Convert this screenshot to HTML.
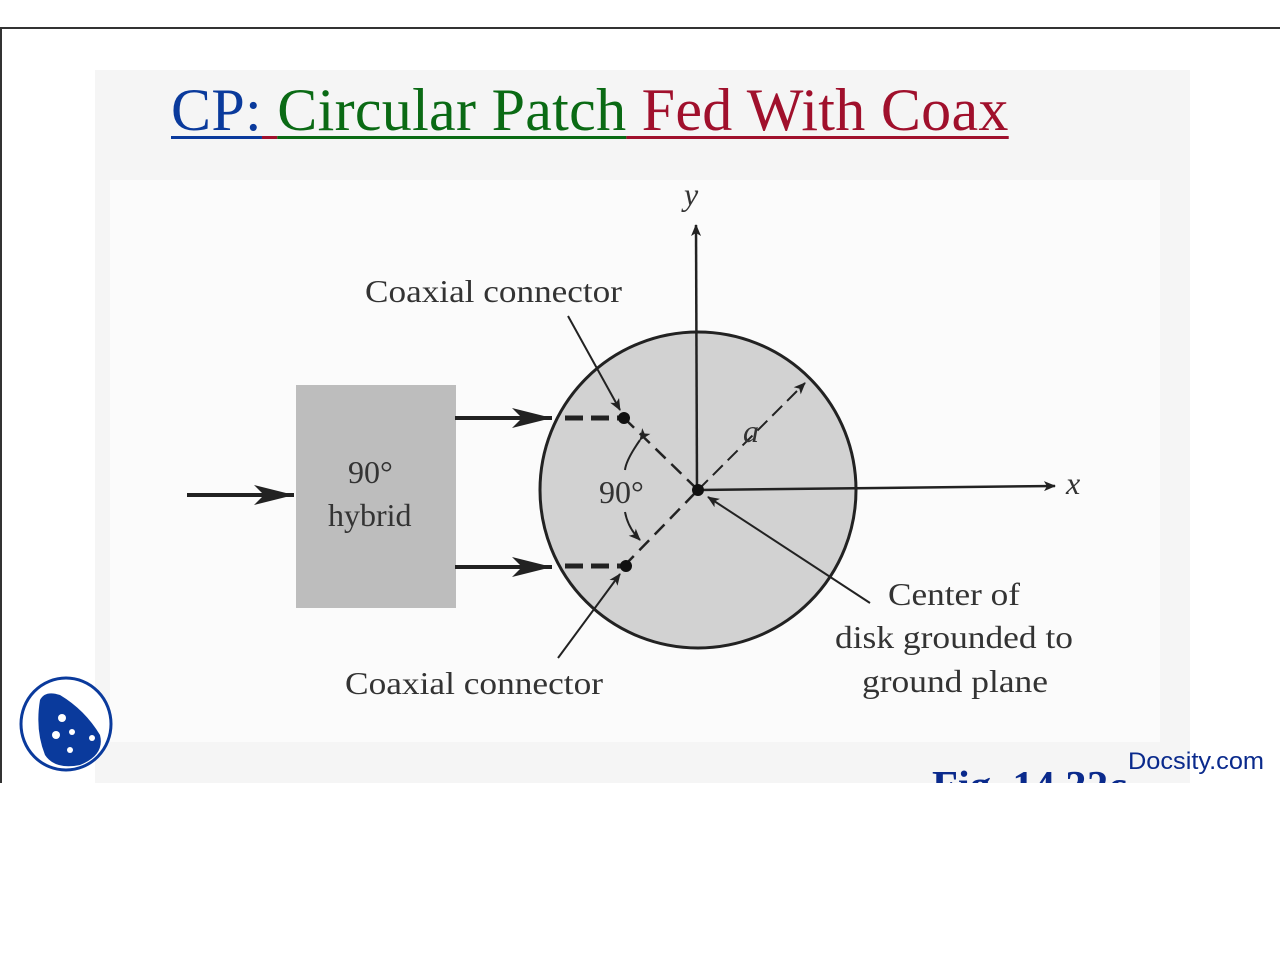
<!DOCTYPE html>
<html><head><style>
body{margin:0;width:1280px;height:960px;background:#fff;position:relative;overflow:hidden;font-family:"Liberation Serif",serif}
.frame{position:absolute;left:0;top:27px;width:1280px;height:756px;border-top:2px solid #333;border-left:2px solid #333;box-sizing:border-box;overflow:hidden}
.slide{position:absolute;left:93px;top:41px;width:1095px;height:730px;background:#f5f5f5}
.title{position:absolute;left:171px;top:76px;font-size:60px;white-space:nowrap;letter-spacing:0.3px}
.title span{text-decoration:underline;text-decoration-thickness:3px;text-underline-offset:6px}
</style></head><body>
<div class="frame">
<div class="slide"></div>
</div>
<div class="title"><span style="color:#0a3a9c">CP:</span><span style="color:#a0102c"> </span><span style="color:#0a6a14">Circular Patch</span><span style="color:#a0102c"> Fed With Coax</span></div>
<svg style="position:absolute;left:0;top:0" width="1280" height="960">
<defs><marker id="a" markerWidth="12" markerHeight="10" refX="11" refY="5" orient="auto" markerUnits="userSpaceOnUse"><path d="M0,0 L12,5 L0,10 L3,5z" fill="#222"/></marker>
<marker id="b" markerWidth="40" markerHeight="20" refX="40" refY="10" orient="auto" markerUnits="userSpaceOnUse"><path d="M0,0 L40,10 L0,20 L10,10z" fill="#222"/></marker></defs>
<rect x="110" y="180" width="1050" height="562" fill="#fbfbfb"/>
<circle cx="698" cy="490" r="158" fill="#d2d2d2" stroke="#222" stroke-width="3"/>
<rect x="296" y="385" width="160" height="223" fill="#bdbdbd"/>
<g stroke="#222" fill="none">
<line x1="187" y1="495" x2="294" y2="495" stroke-width="4" marker-end="url(#b)"/>
<line x1="455" y1="418" x2="552" y2="418" stroke-width="4" marker-end="url(#b)"/>
<line x1="455" y1="567" x2="552" y2="567" stroke-width="4" marker-end="url(#b)"/>
<line x1="565" y1="418" x2="622" y2="418" stroke-width="5" stroke-dasharray="18,8"/>
<line x1="565" y1="566" x2="622" y2="566" stroke-width="5" stroke-dasharray="18,8"/>
<line x1="624" y1="418" x2="698" y2="490" stroke-width="2.5" stroke-dasharray="14,8"/>
<line x1="624" y1="566" x2="698" y2="490" stroke-width="2.5" stroke-dasharray="14,8"/>
<line x1="698" y1="490" x2="1055" y2="486" stroke-width="2.5" marker-end="url(#a)"/>
<line x1="697" y1="490" x2="696" y2="225" stroke-width="2.5" marker-end="url(#a)"/>
<line x1="698" y1="490" x2="805" y2="383" stroke-width="2" stroke-dasharray="14,7" marker-end="url(#a)"/>
<line x1="568" y1="316" x2="620" y2="410" stroke-width="2" marker-end="url(#a)"/>
<line x1="558" y1="658" x2="620" y2="574" stroke-width="2" marker-end="url(#a)"/>
<line x1="870" y1="603" x2="708" y2="497" stroke-width="2" marker-end="url(#a)"/>
<path d="M640,440 Q626,460 625,470" stroke-width="2" marker-start="url(#a)"/>
<path d="M625,512 Q628,528 640,540" stroke-width="2" marker-end="url(#a)"/>
</g>
<circle cx="624" cy="418" r="6" fill="#111"/><circle cx="626" cy="566" r="6" fill="#111"/><circle cx="698" cy="490" r="6" fill="#111"/>
<g fill="#333" font-size="32">
<text x="365" y="302" textLength="257" lengthAdjust="spacingAndGlyphs">Coaxial connector</text>
<text x="345" y="694" textLength="258" lengthAdjust="spacingAndGlyphs">Coaxial connector</text>
<text x="348" y="483">90°</text>
<text x="328" y="526">hybrid</text>
<text x="599" y="503">90°</text>
<text x="743" y="442" font-style="italic">a</text>
<text x="684" y="205" font-style="italic">y</text>
<text x="1066" y="494" font-style="italic">x</text>
<text x="888" y="605" textLength="132" lengthAdjust="spacingAndGlyphs">Center of</text>
<text x="835" y="648" textLength="238" lengthAdjust="spacingAndGlyphs">disk grounded to</text>
<text x="862" y="692" textLength="186" lengthAdjust="spacingAndGlyphs">ground plane</text>
</g>
<text x="932" y="800" font-size="42" font-weight="bold" fill="#0a2a8c" textLength="195" lengthAdjust="spacingAndGlyphs">Fig. 14.32c</text>
<rect x="0" y="783" width="1280" height="177" fill="#fff"/>
<text x="1128" y="769" font-family="Liberation Sans" font-size="24" fill="#0a2a8c" textLength="136" lengthAdjust="spacingAndGlyphs">Docsity.com</text>
<ellipse cx="66" cy="724" rx="45" ry="46" fill="#fff" stroke="#0a3a9c" stroke-width="3"/>
<path d="M40,700 Q45,690 60,695 Q85,710 100,735 Q105,755 80,765 Q55,770 45,755 Q35,730 40,700z" fill="#0a3a9c"/>
<circle cx="62" cy="718" r="4" fill="#fff"/><circle cx="56" cy="735" r="4" fill="#fff"/><circle cx="72" cy="732" r="3" fill="#fff"/><circle cx="92" cy="738" r="3" fill="#fff"/><circle cx="70" cy="750" r="3" fill="#fff"/>
</svg>
</body></html>
